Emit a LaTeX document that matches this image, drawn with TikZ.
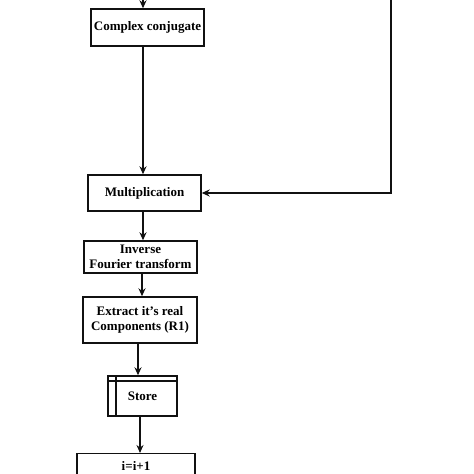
\documentclass[tikz,border=0pt]{standalone}
\usepackage{fontspec}
\setmainfont{Liberation Serif}
\usepackage{tikz}
\usetikzlibrary{arrows.meta,positioning,calc}
\definecolor{Ink}{HTML}{111111}
\tikzset{
  >={Stealth[length=8pt,width=7pt]},
  blk/.style={rectangle,draw=Ink,line width=1.4pt,fill=white,align=center,inner sep=2pt,
    font=\fontsize{13}{15}\selectfont\bfseries},
  storebox/.style={blk,path picture={
      \draw[line width=1.4pt,draw=Ink]
        ([xshift=8pt]path picture bounding box.north west) -- ([xshift=8pt]path picture bounding box.south west)
        ([yshift=-5pt]path picture bounding box.north west) -- ([yshift=-5pt]path picture bounding box.north east);}},
  flow/.style={->,line width=1.6pt,draw=Ink},
  feed/.style={flow}
}
\begin{document}
\begin{tikzpicture}[x=1pt,y=-1pt]
    \clip (0,0) rectangle (474,474);
    \useasboundingbox (0,0) rectangle (474,474);
    \coordinate (in) at (143,0); \coordinate (back) at (391,0);
    \node[blk,minimum width=113pt,minimum height=37pt] (cc) at (147.5,27.5) {Complex conjugate};
    \node[blk,minimum width=113pt,minimum height=36pt] (mul) at (144.5,193) {Multiplication};
    \node[blk,minimum width=113pt,minimum height=32pt] (ift) at (140.5,257) {Inverse\\Fourier transform};
    \node[blk,minimum width=114pt,minimum height=46pt] (ext) at (140,320) {Extract it's real\\Components (R1)};
    \node[storebox,minimum width=69pt,minimum height=40pt] (sto) at (142.5,396) {Store};
    \node[blk,minimum width=118pt,anchor=north,inner ysep=8pt] (inc) at (136,453) {i=i+1};
    \draw[flow] (in)--(cc.north -| in);
    \draw[flow] (cc.south -| in)--(mul.north -| in);
    \draw[feed] (back) |- (mul.east);
    \draw[flow] (mul.south -| in)--(ift.north -| in);
    \draw[flow] (ift.south -| 142,0)--(ext.north -| 142,0);
    \draw[flow] (ext.south -| 138,0)--(sto.north -| 138,0);
    \draw[flow] (sto.south -| 140,0)--(inc.north -| 140,0);
  \end{tikzpicture}
\end{document}
